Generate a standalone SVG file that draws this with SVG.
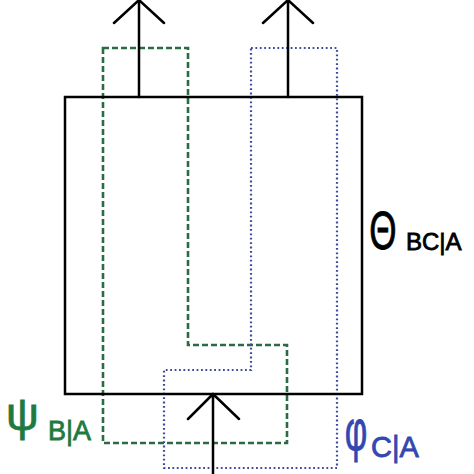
<svg xmlns="http://www.w3.org/2000/svg" width="474" height="474" viewBox="0 0 474 474">
<style>
.wire{stroke:#000;stroke-width:2.5;fill:none;stroke-linecap:round;stroke-linejoin:round}
.box{stroke:#000;stroke-width:2.5;fill:none}
.green{stroke:#2a6b44;stroke-width:2.6;fill:none;stroke-dasharray:6 3}
.blue{stroke:#3f4a9c;stroke-width:2.2;fill:none;stroke-dasharray:1.8 2.6}
.lbl{font-family:"Liberation Sans",Arial,sans-serif}
</style>
<rect width="474" height="474" fill="#fff"/>
<g id="psi-region"><polygon class="green" points="103,48 188,48 188,345 287,345 287,443 103,443"/></g>
<g id="phi-region"><polygon class="blue" points="251,48 337,48 337,468 164,468 164,370 251,370"/></g>
<g id="theta-box"><rect class="box" x="65" y="97" width="297" height="297"/></g>
<g id="connectors">
<path class="wire" d="M139,97 V1 M114,23 L139,0 L164,23"/>
<path class="wire" d="M288,97 V1 M263,23 L288,0 L313,23"/>
<path class="wire" d="M213,474 V394 M188,419 L213,394 L239,419"/>
</g>
<g id="label-theta" class="lbl" fill="#000" stroke="#000" stroke-width="0.8">
<text x="383" y="249" font-size="54" text-anchor="middle" transform="translate(383 0) scale(0.65 1) translate(-383 0)">Θ</text>
<text x="406" y="250" font-size="24">BC|A</text>
</g>
<g id="label-psi" class="lbl" fill="#1f7a3f" stroke="#1f7a3f" stroke-width="0.8">
<text x="6" y="430" font-size="46">ψ</text>
<text x="48" y="440" font-size="27">B|A</text>
</g>
<g id="label-phi" class="lbl" fill="#3447b0" stroke="#3447b0" stroke-width="0.8">
<text x="356" y="450" font-size="58" text-anchor="middle" transform="translate(356 0) scale(0.6 1) translate(-356 0)">φ</text>
<text x="371" y="457" font-size="29">C|A</text>
</g>
</svg>
